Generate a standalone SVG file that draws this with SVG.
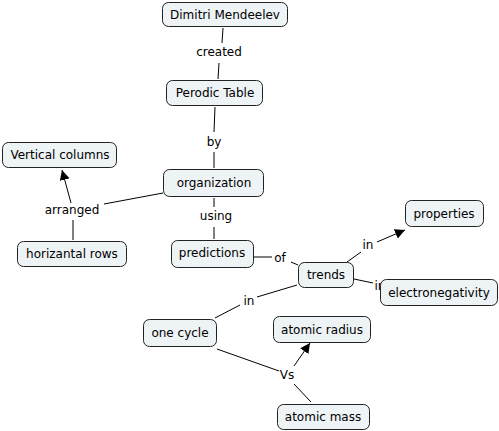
<svg xmlns="http://www.w3.org/2000/svg" width="499" height="431" viewBox="0 0 499 431">
<defs>
<marker id="arr" viewBox="0 0 10 10" refX="10" refY="5" markerWidth="10" markerHeight="10" markerUnits="userSpaceOnUse" orient="auto">
<path d="M0,0 L10,5 L0,10 z" fill="#000"/>
</marker>
<style>
.n rect{fill:#eef3f5;stroke:#222;stroke-width:1;}
text{font-family:"DejaVu Sans",Verdana,sans-serif;font-size:12px;fill:#000;text-anchor:middle;}
.c line{stroke:#000;stroke-width:1;}
.c .a{marker-end:url(#arr);}
</style>
</defs>
<rect width="499" height="431" fill="#fff"/>
<g class="c" id="connectors">
<line x1="223" y1="28" x2="222" y2="43"/>
<line x1="219" y1="63" x2="218" y2="79"/>
<text x="219" y="56">created</text>
<line x1="215" y1="107" x2="214" y2="132"/>
<text x="214" y="146">by</text>
<line x1="214" y1="152" x2="214" y2="168"/>
<line x1="163" y1="193" x2="104" y2="204"/>
<text x="72" y="214">arranged</text>
<line class="a" x1="71" y1="203" x2="62" y2="170"/>
<line x1="73" y1="220" x2="73" y2="240"/>
<line x1="214" y1="198" x2="214" y2="207"/>
<text x="216" y="220">using</text>
<line x1="214" y1="227" x2="214" y2="239"/>
<line x1="254" y1="257" x2="272" y2="257"/>
<text x="280" y="262">of</text>
<line x1="291" y1="262" x2="298" y2="265"/>
<line x1="347" y1="262" x2="361" y2="252"/>
<text x="368" y="249">in</text>
<line class="a" x1="377" y1="242" x2="405" y2="230"/>
<line x1="354" y1="279" x2="373" y2="283"/>
<text x="380" y="290">in</text>
<line x1="297" y1="285" x2="257" y2="297"/>
<text x="249" y="305">in</text>
<line x1="215" y1="318" x2="240" y2="305"/>
<line x1="217" y1="349" x2="279" y2="371"/>
<text x="287" y="379">Vs</text>
<line class="a" x1="294" y1="366" x2="310" y2="343"/>
<line x1="294" y1="384" x2="311" y2="402"/>
</g>
<g class="n" id="n-dimitri"><rect x="162.5" y="2.5" width="125" height="24" rx="6"/><text x="225" y="19">Dimitri Mendeelev</text></g>
<g class="n" id="n-perodic"><rect x="166.5" y="80.5" width="96" height="25" rx="6"/><text x="215" y="97">Perodic Table</text></g>
<g class="n" id="n-vertical"><rect x="2.5" y="142.5" width="114" height="25" rx="6"/><text x="60" y="159">Vertical columns</text></g>
<g class="n" id="n-organization"><rect x="163.5" y="169.5" width="100" height="27" rx="6"/><text x="214" y="187">organization</text></g>
<g class="n" id="n-horizantal"><rect x="17.5" y="241.5" width="109" height="25" rx="6"/><text x="72" y="258">horizantal rows</text></g>
<g class="n" id="n-predictions"><rect x="171.5" y="240.5" width="82" height="27" rx="6"/><text x="212" y="257">predictions</text></g>
<g class="n" id="n-trends"><rect x="298.5" y="262.5" width="55" height="25" rx="6"/><text x="326" y="279">trends</text></g>
<g class="n" id="n-properties"><rect x="405.5" y="200.5" width="78" height="26" rx="6"/><text x="444" y="218">properties</text></g>
<g class="n" id="n-electronegativity"><rect x="380.5" y="279.5" width="117" height="26" rx="6"/><text x="439" y="297">electronegativity</text></g>
<g class="n" id="n-onecycle"><rect x="143.5" y="319.5" width="73" height="27" rx="6"/><text x="180" y="337">one cycle</text></g>
<g class="n" id="n-atomicradius"><rect x="273.5" y="316.5" width="97" height="26" rx="6"/><text x="322" y="334">atomic radius</text></g>
<g class="n" id="n-atomicmass"><rect x="277.5" y="404.5" width="92" height="25" rx="6"/><text x="323" y="421">atomic mass</text></g>
</svg>
